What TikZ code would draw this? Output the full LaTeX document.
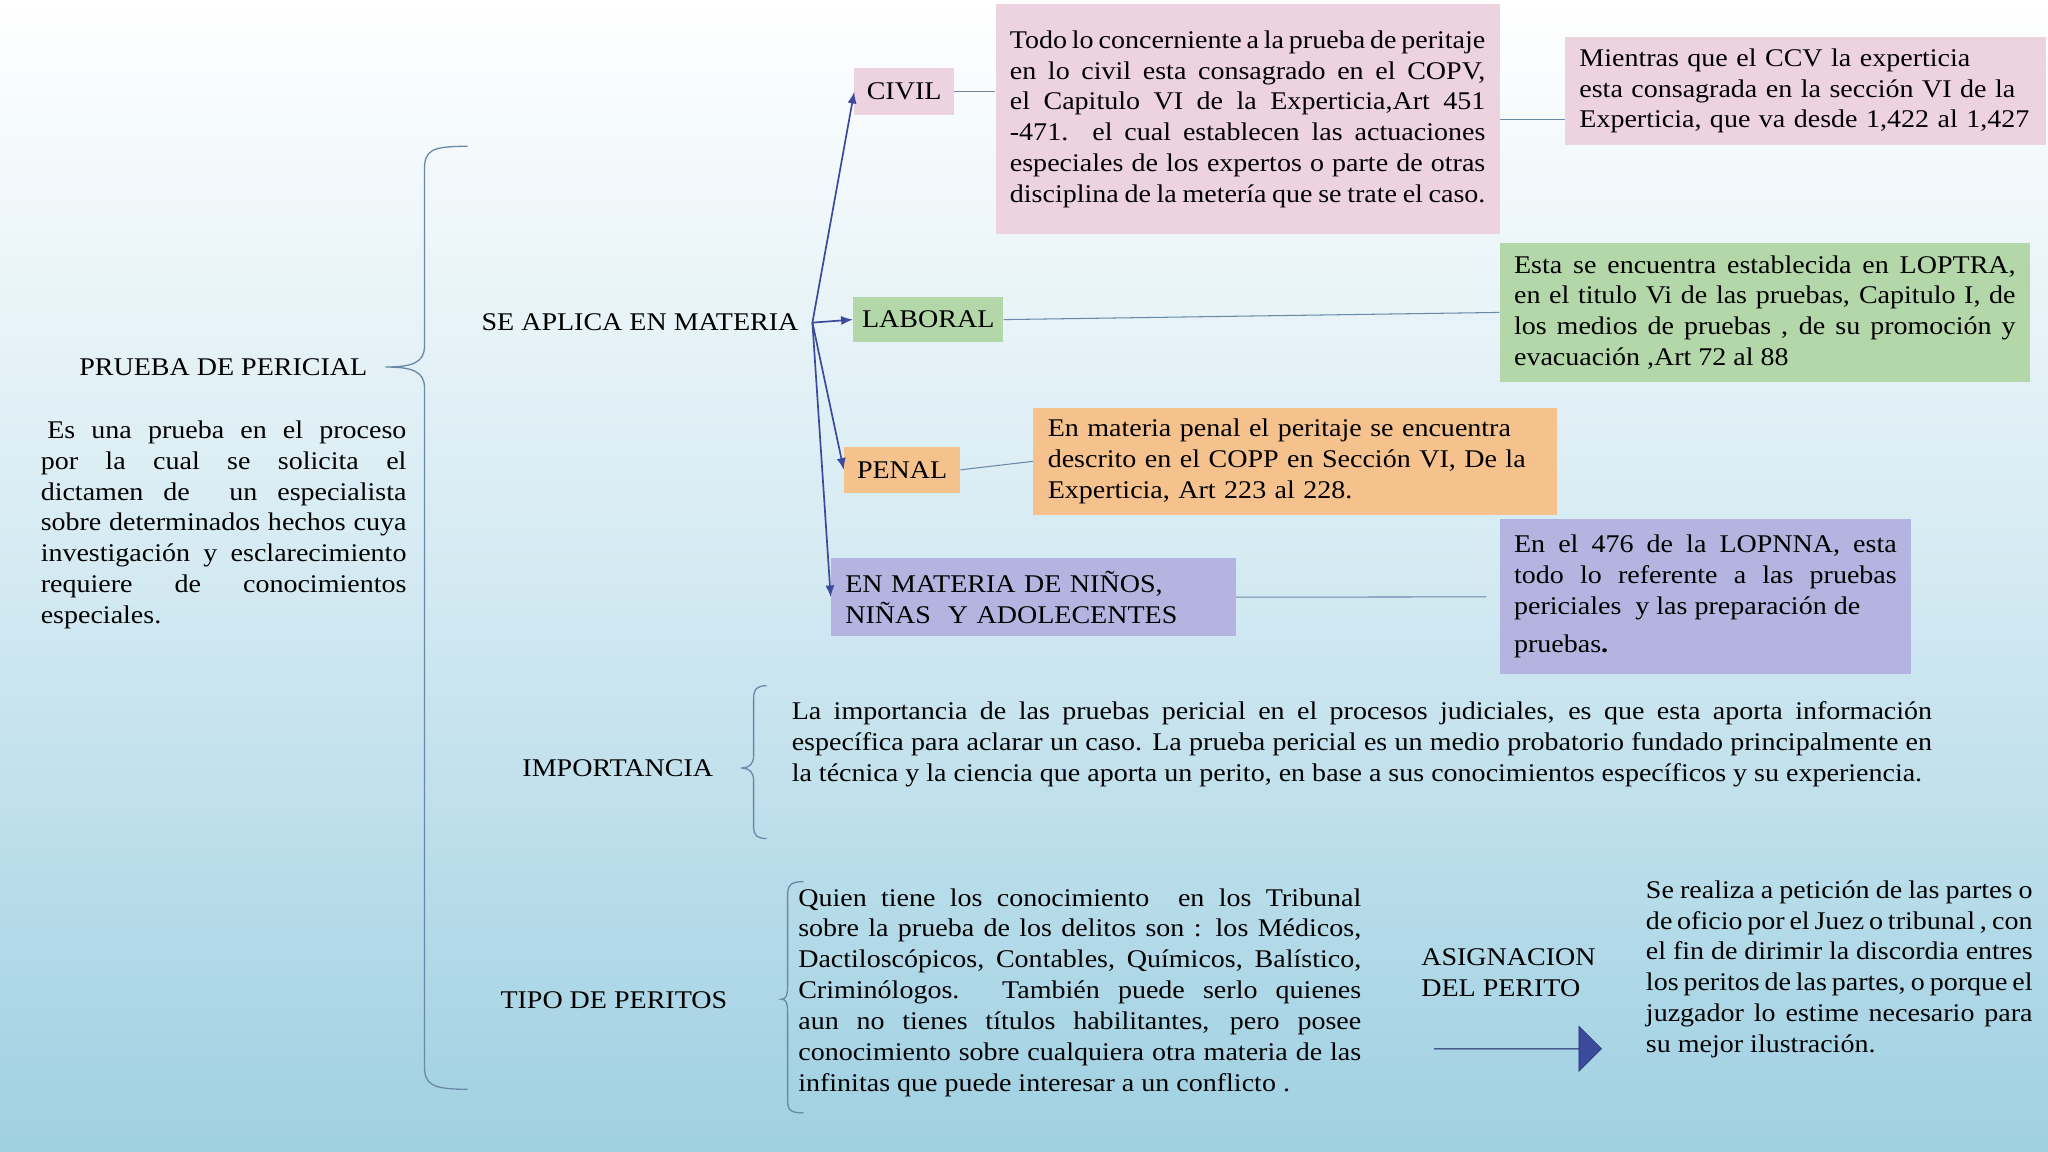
\documentclass[tikz,border=0pt]{standalone}
\usepackage{fontspec}
\setmainfont[FakeStretch=1.1]{Liberation Serif}
\usetikzlibrary{arrows.meta,shapes.arrows}
\definecolor{pinkb}{HTML}{EDD2E0}
\definecolor{greenb}{HTML}{B3D7A8}
\definecolor{orangeb}{HTML}{F5C18D}
\definecolor{lavb}{HTML}{B3B5E0}
\definecolor{arr}{HTML}{3B4A9C}
\definecolor{bluebot}{HTML}{9FD0E2}
\definecolor{lnc}{HTML}{6A88A8}
\hyphenpenalty=10000 \exhyphenpenalty=10000
\begin{document}
\begin{tikzpicture}[x=1pt,y=-1pt,
  txt/.style={font=\fontsize{19.5}{23.6}\selectfont,inner sep=0pt,align=justify},
  lbl/.style={font=\fontsize{19.5}{23.6}\selectfont,inner sep=0pt,align=left},
  box/.style={font=\fontsize{19.5}{23.6}\selectfont,anchor=north west,inner xsep=11pt,inner ysep=4pt,align=justify},
  conn/.style={draw=lnc,line width=0.8pt},
  arrc/.style={draw=arr,line width=1.3pt,-{Latex[length=9pt,width=7pt]}},
  brc/.style={draw=lnc,line width=1pt}]
\useasboundingbox (0,0) rectangle (1568,882);
\shade[top color=white,bottom color=bluebot,middle color=white!55!bluebot] (0,0) rectangle (1568,882);
% left
\node[lbl] (prueba) at (171,281) {PRUEBA DE PERICIAL};
\node[txt,text width=280pt,anchor=north west] (def) at (31,322) {\hspace*{5pt}Es una prueba en el proceso por la cual se solicita el dictamen de\ \ un especialista sobre determinados hechos cuya investigación y esclarecimiento requiere de conocimientos especiales.};
\draw[brc] (358,112) .. controls (330,112) and (325,115) .. (325,130) -- (325,265) .. controls (325,278) and (315,281) .. (295,281) .. controls (315,281) and (325,284) .. (325,297) -- (325,816) .. controls (325,830) and (330,834) .. (358,834);
% materia
\node[lbl] (se) at (490,247) {SE APLICA EN MATERIA};
\coordinate (fork) at (622,247);
\node[box,fill=pinkb,minimum width=76pt,minimum height=36pt,align=center,inner xsep=2pt] (civil) at (654,52) {CIVIL};
\node[box,fill=greenb,minimum width=115pt,minimum height=35pt,align=center,inner xsep=2pt] (laboral) at (653,227) {LABORAL};
\node[box,fill=orangeb,minimum width=89pt,minimum height=35pt,align=center,inner xsep=2pt] (penal) at (646,342) {PENAL};
\node[box,fill=lavb,text width=288pt,minimum height=60pt,align=left] (ninos) at (636,427) {EN MATERIA DE NIÑOS,\\NIÑAS\ \ Y ADOLECENTES};
\draw[arrc] (fork) -- (civil.west);
\draw[arrc] (fork) -- (laboral.west);
\draw[arrc] (fork) -- (penal.west);
\draw[arrc] (fork) -- (ninos.west);
% right boxes
\node[box,fill=pinkb,text width=364pt,minimum height=176pt] (civtxt) at (762,3) {Todo lo concerniente a la prueba de peritaje en lo civil esta consagrado en el COPV, el Capitulo VI de la Experticia,Art 451 -471. el cual establecen las actuaciones especiales de los expertos o parte de otras disciplina de la metería que se trate el caso.};
\node[box,fill=pinkb,text width=346pt,minimum height=83pt,align=left] (ccv) at (1198,28) {Mientras que el CCV la experticia esta consagrada en la sección VI\ de la Experticia, que va desde 1,422 al 1,427};
\node[box,fill=greenb,text width=384pt,minimum height=106pt] (labtxt) at (1148,186) {Esta se encuentra establecida en LOPTRA, en el titulo Vi de las pruebas, Capitulo I, de los medios de pruebas , de su promoción\ y evacuación ,Art 72 al 88};
\node[box,fill=orangeb,text width=379pt,minimum height=82pt,align=left] (pentxt) at (791,312) {En materia penal el peritaje se encuentra\\descrito en el COPP en Sección VI, De la\\Experticia, Art 223 al 228.};
\node[box,fill=lavb,text width=293pt,minimum height=119pt] (nintxt) at (1148,397) {En el 476 de la LOPNNA, esta todo lo referente a las pruebas periciales\ \ y las preparación de\\[6pt] pruebas\textbf{.}};
\draw[conn] (civil.east) -- (civil.east -| civtxt.west);
\draw[conn] (civtxt.east |- ccv.west) ++(0,22) coordinate (c1) -- (c1 -| ccv.west);
\draw[conn] (laboral.east) -- (labtxt.west);
\draw[conn] (penal.east) -- (pentxt.west);
\coordinate (nend) at (1138,457);
\draw[conn] (ninos.east) -- (nend);
% importancia
\node[lbl] (imp) at (473,588) {IMPORTANCIA};
\draw[brc] (587,525) .. controls (580,525) and (577,527) .. (577,535) -- (577,578) .. controls (577,585) and (574,588) .. (567,588) .. controls (574,588) and (577,591) .. (577,598) -- (577,633) .. controls (577,640) and (580,642) .. (587,642);
\node[txt,text width=873pt,anchor=north west] (imptxt) at (606,537) {La importancia de las pruebas pericial en el procesos judiciales, es que esta aporta información específica para aclarar un caso. La prueba pericial es un medio probatorio fundado principalmente en la técnica y la ciencia que aporta un perito, en base a sus conocimientos específicos y su experiencia.};
% tipo
\node[lbl] (tipo) at (470,766) {TIPO DE PERITOS};
\draw[brc] (615,675) .. controls (605,675) and (603,678) .. (603,686) -- (603,755) .. controls (603,762) and (602,765) .. (598,765) .. controls (602,765) and (603,768) .. (603,775) -- (603,842) .. controls (603,850) and (605,852) .. (615,852);
\node[txt,text width=431pt,anchor=north west] (tipotxt) at (611,680) {Quien tiene los conocimiento\ \ en los Tribunal sobre la prueba de los delitos\ son : los Médicos, Dactiloscópicos, Contables, Químicos, Balístico, Criminólogos. También puede serlo quienes aun no tienes títulos habilitantes, pero posee conocimiento sobre cualquiera otra materia\ de las infinitas que\ puede interesar a un conflicto .};
\node[lbl,anchor=north west] (asig) at (1088,726) {ASIGNACION\\DEL PERITO};
\node[single arrow,draw=arr!70!black,fill=arr,minimum height=128pt,minimum width=32pt,single arrow head extend=17pt,inner sep=0pt,single arrow tip angle=90] (blk) at (1162,803) {};
\node[txt,text width=296pt,anchor=north west] (asigtxt) at (1260,674) {Se realiza a petición de las partes o de oficio por el Juez o tribunal , con el fin de dirimir la discordia entres los peritos de las partes, o porque el juzgador lo estime necesario para su mejor ilustración.};
\end{tikzpicture}
\end{document}
